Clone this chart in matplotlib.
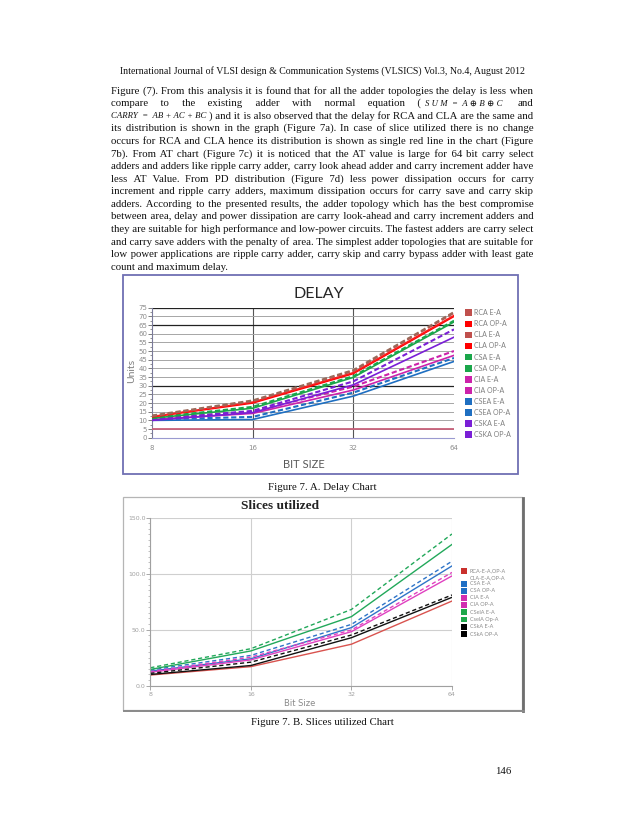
import matplotlib
matplotlib.use('Agg')
import matplotlib.pyplot as plt
from matplotlib.patches import Rectangle
from matplotlib.lines import Line2D

# ---------------- data ----------------
bit_sizes = ['8', '16', '32', '64']

delay_labels = ['RCA E-A', 'RCA OP-A', 'CLA E-A', 'CLA OP-A', 'CSA E-A', 'CSA OP-A',
                'CIA E-A', 'CIA OP-A', 'CSEA E-A', 'CSEA OP-A', 'CSKA E-A', 'CSKA OP-A']
rca_ea = [12.5, 21.0, 38.5, 72.0]
rca_opa = [12.0, 20.0, 37.0, 70.0]
cla_ea = [12.8, 21.5, 39.0, 72.5]
cla_opa = [12.2, 20.5, 37.5, 70.5]
csa_ea = [11.5, 17.8, 35.5, 67.5]
csa_opa = [11.2, 17.0, 34.8, 66.8]
cia_ea = [11.0, 15.0, 29.5, 50.0]
cia_opa = [10.5, 14.0, 27.5, 47.5]
csea_ea = [10.5, 12.0, 26.0, 46.0]
csea_opa = [10.0, 10.5, 24.0, 44.0]
cska_ea = [10.5, 15.5, 32.5, 62.5]
cska_opa = [10.0, 14.5, 30.5, 58.0]
delay_ref = [5, 5, 5, 5]

slice_labels = ['RCA-E-A,OP-A\nCLA-E-A,OP-A', 'CSA E-A', 'CSA OP-A', 'CIA E-A', 'CIA OP-A',
                'CSelA E-A', 'CselA Op-A', 'CSkA E-A', 'CSkA OP-A']
sl_rca_cla = [9.5, 17.0, 37.0, 75.5]
sl_csa_ea = [14.0, 27.0, 54.7, 111.0]
sl_csa_opa = [13.0, 24.0, 51.8, 106.8]
sl_cia_ea = [12.5, 25.5, 49.7, 101.0]
sl_cia_opa = [12.0, 23.0, 48.2, 97.9]
sl_csela_ea = [16.0, 33.0, 68.0, 135.3]
sl_csela_opa = [14.5, 31.0, 61.6, 126.0]
sl_cska_ea = [11.0, 21.0, 45.2, 80.9]
sl_cska_opa = [10.0, 18.0, 42.8, 78.8]

# ---------------- figure ----------------
W, H = 638, 826
fig = plt.figure(figsize=(W / 100, H / 100), dpi=100)
fig.patch.set_facecolor('white')
renderer = fig.canvas.get_renderer()


def fx(x):
    return x / W


def fy(y):
    return 1 - y / H


SERIF = ['Liberation Serif', 'DejaVu Serif']
SANS = ['Lato', 'DejaVu Sans']
INK = '#111111'
body_kw = dict(family=SERIF, color=INK)
eq_kw = dict(family=SERIF, style='italic', color=INK)


def measure(s, fs, **kw):
    t = fig.text(0, 0, s, fontsize=fs, **kw)
    w = t.get_window_extent(renderer).width
    t.remove()
    return w


def fit_text(x, y, s, target_w, base=10, **kw):
    t = fig.text(fx(x), fy(y), s, fontsize=base, **kw)
    w = t.get_window_extent(renderer).width
    t.set_fontsize(base * target_w / w)
    return t


# ---------------- page text ----------------
fit_text(322, 74, 'International Journal of VLSI design & Communication Systems (VLSICS) Vol.3, No.4, August 2012',
         401, family=SERIF, ha='center', va='baseline', color=INK)

X0, X1 = 110.7, 533.0
# (text, left, right) ; right=None means not justified
body_lines = [
    ("Figure (7). From this analysis it is found that for all the adder topologies the delay is less when", X0, X1),
    ("compare to the existing adder with normal equation (", X0, 421.0),
    (") and it is also observed that the delay for RCA and CLA are the same and", 209.0, X1),
    ("its distribution is shown in the graph (Figure 7a). In case of slice utilized there is no change", X0, X1),
    ("occurs for RCA and CLA hence its distribution is shown as single red line in the chart (Figure", X0, X1),
    ("7b). From AT chart (Figure 7c) it is noticed that the AT value is large for 64 bit carry select", X0, X1),
    ("adders and adders like ripple carry adder, carry look ahead adder and carry increment adder have", X0, X1),
    ("less AT Value.  From PD distribution (Figure 7d) less power dissipation occurs for carry", X0, X1),
    ("increment and ripple carry adders, maximum dissipation occurs for carry save and carry skip", X0, X1),
    ("adders. According to the presented results, the adder topology which has the best compromise", X0, X1),
    ("between area, delay and power dissipation are carry look-ahead and carry increment adders and", X0, X1),
    ("they are suitable for high performance and low-power circuits. The fastest adders are carry select", X0, X1),
    ("and carry save adders with the penalty of area. The simplest adder topologies that are suitable for", X0, X1),
    ("low power applications are ripple carry adder, carry skip and carry bypass adder with least gate", X0, X1),
    ("count and maximum delay.", X0, None),
]

base = 10.0
sp_base = measure('a a', base, **body_kw) - measure('aa', base, **body_kw)
scale = 10.0
for txt, l, r in body_lines:
    if r is None:
        continue
    words = txt.split()
    nat = sum(measure(w, base, **body_kw) for w in words) + sp_base * (len(words) - 1)
    scale = min(scale, (r - l) / nat)
body_fs = base * scale * 0.995

sp = measure('a a', body_fs, **body_kw) - measure('aa', body_fs, **body_kw)
HS = None
hw = 0.0
for cand in ['\u200a', '\u2009', '\u2006']:
    w10 = (measure('a ' + cand * 10 + 'a', body_fs, **body_kw) - measure('a a', body_fs, **body_kw)) / 10
    if 0.25 < w10 < 3.0:
        HS, hw = cand, w10
        break


def build_justified(words, target_w):
    ww = [measure(w, body_fs, **body_kw) for w in words]
    n = len(words) - 1
    extra = (target_w - sum(ww)) / n - sp
    s = None
    for _ in range(3):
        s = words[0]
        acc = 0.0
        for k in range(1, len(words)):
            acc += extra
            m = max(0, int(round(acc / hw))) if HS else 0
            acc -= m * hw
            s += ' ' + (HS * m if HS else '') + words[k]
        act = measure(s, body_fs, **body_kw)
        extra += (target_w - act) / n
    return s


for li, (txt, l, r) in enumerate(body_lines):
    y = 90 + 12.61 * li + 3.3
    if r is None:
        fig.text(fx(l), fy(y), txt, fontsize=body_fs, va='baseline', ha='left', **body_kw)
    else:
        s = build_justified(txt.split(), r - l)
        fig.text(fx(l), fy(y), s, fontsize=body_fs, va='baseline', ha='left', **body_kw)

# equations
y2 = 90 + 12.61 * 1 + 2.8
y3 = 90 + 12.61 * 2 + 2.8
fit_text(425, y2, 'S U M  =  A \u2295 B \u2295 C', 77, family=SERIF, style='italic',
         color=INK, ha='left', va='baseline')
fig.text(fx(X1), fy(90 + 12.61 + 3.3), 'and', fontsize=body_fs, va='baseline', ha='right', **body_kw)
fit_text(X0, y3, 'CARRY  =  AB + AC + BC', 95, family=SERIF, style='italic',
         color=INK, ha='left', va='baseline')

# ---------------- Delay chart ----------------
fig.patches.append(Rectangle((fx(122.5), fy(474)), (518 - 122.5) / W, (474 - 275) / H,
                             transform=fig.transFigure, fill=False, edgecolor='#6f6fb3',
                             linewidth=1.3, zorder=0))

ax1 = fig.add_axes([fx(152), fy(437.7), (454 - 152) / W, 130 / H])
xs = list(range(len(bit_sizes)))
ax1.set_xlim(0, 3)
ax1.set_ylim(0, 75)
ax1.set_yticks(range(0, 80, 5))
ax1.set_yticks([v + 2.5 for v in range(0, 75, 5)], minor=True)
ax1.set_xticks(xs)
ax1.set_xticklabels(bit_sizes)
ax1.tick_params(axis='y', which='major', length=3, width=0.6, color='#666666',
                labelsize=5, labelcolor='#8c8c8c', pad=0.5)
ax1.tick_params(axis='y', which='minor', length=1.5, width=0.5, color='#666666')
ax1.tick_params(axis='x', length=0, labelsize=5, labelcolor='#8c8c8c', pad=5.5)
ax1.grid(axis='y', color='#a6a6a6', linewidth=0.7)
for v, gl in zip(range(0, 80, 5), ax1.get_ygridlines()):
    if v in (30, 65, 75):
        gl.set_color('#222222')
        gl.set_linewidth(0.9)
    if v == 0:
        gl.set_color('#a0a0d8')
ax1.grid(axis='x', color='#555555', linewidth=0.8)
for i, gl in enumerate(ax1.get_xgridlines()):
    if i in (0, 3):
        gl.set_visible(False)
for s in ('top', 'right'):
    ax1.spines[s].set_visible(False)
ax1.spines['left'].set_color('#7a7a9a')
ax1.spines['left'].set_linewidth(0.8)
ax1.spines['bottom'].set_color('#9a9ad0')
ax1.spines['bottom'].set_linewidth(0.8)
ax1.set_axisbelow(True)

delay_series = [rca_ea, rca_opa, cla_ea, cla_opa, csa_ea, csa_opa,
                cia_ea, cia_opa, csea_ea, csea_opa, cska_ea, cska_opa]
delay_colors = ['#c0504d', '#ff0000', '#9a6a5a', '#ff1a1a', '#1aa64a', '#1aa64a',
                '#cc22aa', '#cc22aa', '#1f6fc1', '#1f6fc1', '#7a1fd6', '#7a1fd6']
delay_sq_colors = ['#c0504d', '#ff0000', '#c0504d', '#ff0000', '#1aa64a', '#1aa64a',
                   '#cc22aa', '#cc22aa', '#1f6fc1', '#1f6fc1', '#7a1fd6', '#7a1fd6']
ax1.plot(xs, delay_ref, color='#c7607a', lw=1.3, zorder=3)
order = [8, 9, 6, 7, 10, 11, 4, 5, 1, 3, 0, 2]
for i in order:
    if i % 2 == 0:
        ax1.plot(xs, delay_series[i], color=delay_colors[i], lw=1.5,
                 dashes=(2.5, 1.3), zorder=4)
    else:
        ax1.plot(xs, delay_series[i], color=delay_colors[i], lw=1.2, zorder=4)

fig.text(fx(319), fy(294), 'DELAY', family=SANS, fontsize=11.5, color='#262626',
         ha='center', va='center')
fig.text(fx(132), fy(371), 'Units', family=SANS, fontsize=7.5, color='#7f7f7f',
         rotation=90, ha='center', va='center')
fig.text(fx(304), fy(464), 'BIT SIZE', family=SANS, fontsize=8, color='#595959',
         ha='center', va='center')

for i, (lab, c) in enumerate(zip(delay_labels, delay_sq_colors)):
    yc = 312.7 + 11.1 * i
    fig.patches.append(Rectangle((fx(465), fy(yc + 3.3)), 6.6 / W, 6.6 / H,
                                 transform=fig.transFigure, facecolor=c, edgecolor='none'))
    fig.text(fx(474.5), fy(yc), lab, family=SANS, fontsize=5, color='#7f7f7f',
             ha='left', va='center')

fit_text(322, 490, 'Figure 7. A. Delay Chart', 108, family=SERIF, ha='center',
         va='baseline', color=INK)

# ---------------- Slices chart ----------------
fig.patches.append(Rectangle((fx(123), fy(709.5)), (521.5 - 123) / W, (709.5 - 497) / H,
                             transform=fig.transFigure, fill=False, edgecolor='#b5b5b5',
                             linewidth=0.9, zorder=0))
fig.lines.append(Line2D([fx(522.5), fx(522.5)], [fy(498), fy(711)], transform=fig.transFigure,
                        color='#6e6e6e', lw=2.0))
fig.lines.append(Line2D([fx(124), fx(523.5)], [fy(710.7), fy(710.7)], transform=fig.transFigure,
                        color='#8a8a8a', lw=1.4))

ax2 = fig.add_axes([fx(150.3), fy(685.7), (452 - 150.3) / W, (685.7 - 517.5) / H])
ax2.set_xlim(0, 3)
ax2.set_ylim(0, 150)
ax2.set_xticks(xs)
ax2.set_xticklabels(bit_sizes)
ax2.set_yticks([0, 50, 100, 150])
ax2.set_yticklabels(['0.0', '50.0', '100.0', '150.0'])
ax2.set_yticks(range(0, 151, 5), minor=True)
ax2.tick_params(axis='y', which='major', length=3, width=0.6, color='#9a9a9a',
                labelsize=4.5, labelcolor='#a0a0a0', pad=0.5)
ax2.tick_params(axis='y', which='minor', length=1.6, width=0.5, color='#a8a8a8')
ax2.tick_params(axis='x', length=3, width=0.6, color='#9a9a9a', labelsize=4.5,
                labelcolor='#a0a0a0', pad=1.5)
ax2.grid(True, which='major', color='#cfcfcf', linewidth=0.8)
for s in ('top', 'right'):
    ax2.spines[s].set_visible(False)
for s in ('left', 'bottom'):
    ax2.spines[s].set_color('#a0a0a0')
    ax2.spines[s].set_linewidth(0.8)
ax2.set_axisbelow(True)

slice_series = [sl_rca_cla, sl_csa_ea, sl_csa_opa, sl_cia_ea, sl_cia_opa,
                sl_csela_ea, sl_csela_opa, sl_cska_ea, sl_cska_opa]
slice_colors = ['#d9534f', '#2f74c8', '#2f74c8', '#e040c0', '#e040c0',
                '#22a85a', '#22a85a', '#111111', '#111111']
slice_sq_colors = ['#c9302c', '#1f6fc5', '#1f6fc5', '#d02fb0', '#d02fb0',
                   '#1ea84a', '#1ea84a', '#000000', '#000000']
for i, (vals, c) in enumerate(zip(slice_series, slice_colors)):
    if i > 0 and i % 2 == 1:
        ax2.plot(xs, vals, color=c, lw=1.0, dashes=(3, 2))
    else:
        ax2.plot(xs, vals, color=c, lw=1.0)

fit_text(280.5, 509, 'Slices utilized', 78, family=SERIF, weight='bold', ha='center',
         va='baseline', color='#222222')
fig.text(fx(300), fy(703), 'Bit Size', family=['DejaVu Sans'], fontsize=6,
         color='#8a8a8a', ha='center', va='center')

leg_y = [571, 583.7, 590.7, 597.9, 605.0, 612.3, 619.6, 626.9, 634.1]
for lab, c, yc in zip(slice_labels, slice_sq_colors, leg_y):
    fig.patches.append(Rectangle((fx(461), fy(yc + 2.8)), 5.6 / W, 5.6 / H,
                                 transform=fig.transFigure, facecolor=c, edgecolor='none'))
    parts = lab.split('\n')
    for k, p in enumerate(parts):
        fig.text(fx(470), fy(yc + 6.3 * k), p, family=SANS, fontsize=4,
                 color='#8c8c8c', ha='left', va='center')

fit_text(322, 725, 'Figure 7. B. Slices utilized Chart', 141, family=SERIF, ha='center',
         va='baseline', color=INK)

fig.text(fx(503), fy(774), '146', family=SERIF, fontsize=body_fs, color=INK,
         ha='center', va='baseline')

fig.savefig('out.png', dpi=100, facecolor='white')
